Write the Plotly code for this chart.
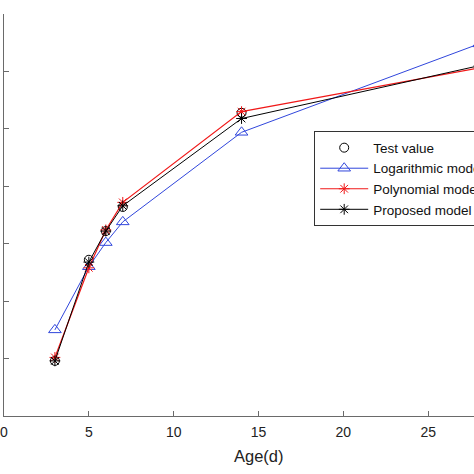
import plotly.graph_objects as go

age = [3, 5, 6, 7, 14, 28]
test_value = [4.8, 13.6, 16.1, 18.2, 26.4, 30.4]
log_model = [7.5, 13.0, 15.1, 16.9, 24.7, 32.4]
poly_model = [5.1, 12.9, 16.2, 18.6, 26.5, 30.3]
proposed_model = [4.8, 13.4, 16.1, 18.3, 25.9, 30.5]
x_ticks = [0, 5, 10, 15, 20, 25]
y_ticks = [0, 5, 10, 15, 20, 25, 30, 35]
x_title = "Age(d)"

font_family = "Liberation Sans, Arial, sans-serif"

fig = go.Figure()
fig.add_trace(go.Scatter(
    x=age, y=test_value, mode="markers", name="Test value",
    marker=dict(symbol="circle-open", size=9, color="#000000", line=dict(width=1, color="#000000")),
))
fig.add_trace(go.Scatter(
    x=age, y=log_model, mode="lines+markers", name="Logarithmic model",
    line=dict(color="#3046dc", width=1),
    marker=dict(symbol="triangle-up-open", size=11, color="#3046dc", line=dict(width=1, color="#3046dc")),
))
fig.add_trace(go.Scatter(
    x=age, y=poly_model, mode="lines+markers", name="Polynomial model",
    line=dict(color="#f01818", width=1.2),
    marker=dict(symbol="asterisk-open", size=9, color="#f01818", line=dict(width=1, color="#f01818")),
))
fig.add_trace(go.Scatter(
    x=age, y=proposed_model, mode="lines+markers", name="Proposed model",
    line=dict(color="#000000", width=1),
    marker=dict(symbol="asterisk-open", size=9, color="#000000", line=dict(width=1, color="#000000")),
))

fig.update_layout(
    width=474, height=474,
    margin=dict(l=4, r=0, t=14, b=58, autoexpand=False),
    paper_bgcolor="white", plot_bgcolor="white",
    font=dict(family=font_family, size=14, color="#222222"),
    showlegend=True,
    legend=dict(
        x=0.66, y=0.708, xanchor="left", yanchor="top",
        bgcolor="white", bordercolor="#333333", borderwidth=1,
        font=dict(family=font_family, size=13.5, color="#111111"),
        tracegroupgap=0, itemwidth=48,
    ),
    annotations=[dict(
        text=x_title, x=15, xref="x", y=-0.0995, yref="paper",
        xanchor="center", yanchor="middle", showarrow=False,
        font=dict(family=font_family, size=16.5, color="#222222"),
    )],
)
fig.update_xaxes(
    range=[0, 27.7], tickvals=x_ticks, ticktext=[str(v) for v in x_ticks],
    showgrid=False, zeroline=False, showline=True, linecolor="#6a6a6a", linewidth=1,
    ticks="inside", ticklen=5, tickcolor="#6a6a6a", ticklabelstandoff=3,
    tickfont=dict(size=14, family=font_family),
)
fig.update_yaxes(
    range=[0, 35], tickvals=y_ticks, showticklabels=False,
    showgrid=False, zeroline=False, showline=True, linecolor="#6a6a6a", linewidth=1,
    ticks="inside", ticklen=5, tickcolor="#6a6a6a",
)

fig.write_html("out.html")
